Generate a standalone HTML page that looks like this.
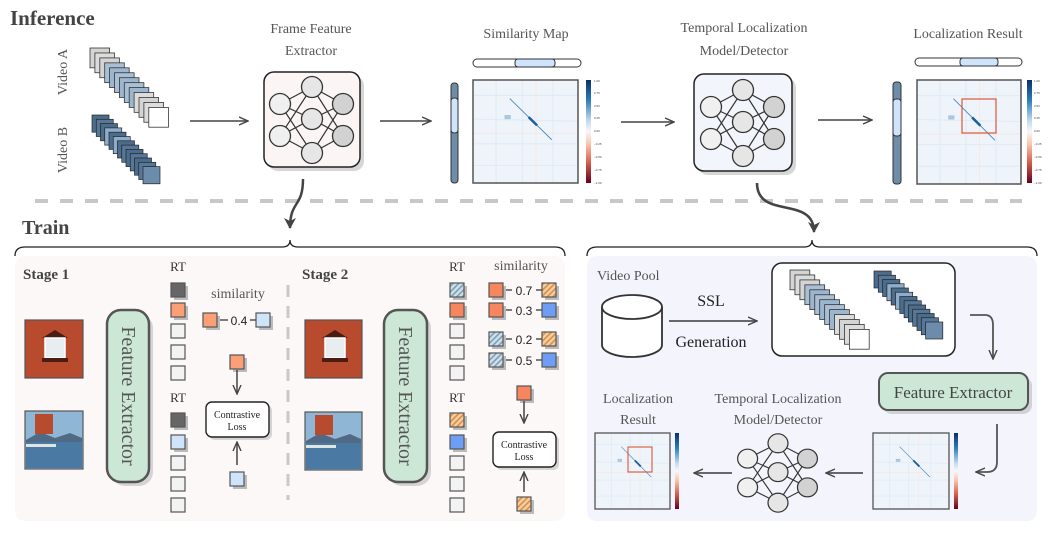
<!DOCTYPE html>
<html><head><meta charset="utf-8"><style>
body{margin:0;background:#fff;}
svg{display:block;font-family:"Liberation Serif",serif;}
.lbl{font-size:14px;fill:#555;text-anchor:middle;}
.h{font-weight:bold;fill:#444;}
.rt{font-size:13px;fill:#333;text-anchor:middle;}
.num{font-family:"Liberation Sans",sans-serif;font-size:12px;fill:#222;text-anchor:middle;}
.tk{font-family:"Liberation Sans",sans-serif;font-size:3px;fill:#444;}
</style></head><body>
<svg width="1048" height="550" viewBox="0 0 1048 550" xmlns="http://www.w3.org/2000/svg">
<defs>
<marker id="ar" markerWidth="10" markerHeight="10" refX="8" refY="5" orient="auto" markerUnits="userSpaceOnUse"><path d="M0,1 L9,5 L0,9" fill="none" stroke="#444" stroke-width="1.4"/></marker>
<marker id="ar2" markerWidth="14" markerHeight="14" refX="10" refY="7" orient="auto" markerUnits="userSpaceOnUse"><path d="M0,1 L11,7 L0,13 L3,7z" fill="#444"/></marker>
<linearGradient id="cb" x1="0" y1="0" x2="0" y2="1">
<stop offset="0" stop-color="#08306b"/><stop offset="0.2" stop-color="#2f7ebc"/><stop offset="0.4" stop-color="#c6dbef"/><stop offset="0.5" stop-color="#f7f7f7"/><stop offset="0.62" stop-color="#fbc6ae"/><stop offset="0.8" stop-color="#d6604d"/><stop offset="1" stop-color="#67001f"/></linearGradient>
<pattern id="hb" width="4" height="4" patternUnits="userSpaceOnUse" patternTransform="rotate(45)"><rect width="4" height="4" fill="#cfe0ea"/><rect width="1.6" height="4" fill="#7d9fb5"/></pattern>
<pattern id="ho" width="4" height="4" patternUnits="userSpaceOnUse" patternTransform="rotate(45)"><rect width="4" height="4" fill="#f6cf9f"/><rect width="1.6" height="4" fill="#d98d4d"/></pattern>
<symbol id="hm" viewBox="0 0 100 100" preserveAspectRatio="none">
<rect width="100" height="100" fill="#eef4f9"/>
<g stroke="#e0ebf4" stroke-width="1"><line x1="0" y1="15" x2="100" y2="15"/><line x1="0" y1="38" x2="100" y2="40"/><line x1="0" y1="62" x2="100" y2="62"/><line x1="0" y1="83" x2="100" y2="83"/><line x1="22" y1="0" x2="22" y2="100"/><line x1="47" y1="0" x2="47" y2="100"/><line x1="76" y1="0" x2="76" y2="100"/></g>
<g stroke="#f7e6de" stroke-width="0.8"><line x1="0" y1="52" x2="100" y2="52"/><line x1="60" y1="0" x2="60" y2="100"/></g>
<line x1="35" y1="18" x2="75" y2="58" stroke="#4a8cc2" stroke-width="0.9"/>
<line x1="53" y1="36" x2="61" y2="44" stroke="#1d5fa0" stroke-width="2.4"/>
<rect x="30" y="34" width="6" height="4" fill="#a8c8e2"/>
</symbol>
<g id="nn">
<g stroke="#333" stroke-width="1.2">
<line x1="-32" y1="-16" x2="0" y2="-33"/><line x1="-32" y1="-16" x2="0" y2="-1"/><line x1="-32" y1="-16" x2="0" y2="33"/>
<line x1="-32" y1="16" x2="0" y2="-33"/><line x1="-32" y1="16" x2="0" y2="-1"/><line x1="-32" y1="16" x2="0" y2="33"/>
<line x1="31" y1="-16" x2="0" y2="-33"/><line x1="31" y1="-16" x2="0" y2="-1"/><line x1="31" y1="-16" x2="0" y2="33"/>
<line x1="31" y1="16" x2="0" y2="-33"/><line x1="31" y1="16" x2="0" y2="-1"/><line x1="31" y1="16" x2="0" y2="33"/>
</g>
<g stroke="#333" stroke-width="1.3">
<circle cx="0" cy="-33" r="10.5" fill="#e6e6e6"/><circle cx="0" cy="-1" r="10.5" fill="#e6e6e6"/><circle cx="0" cy="33" r="10.5" fill="#e6e6e6"/>
<circle cx="-32" cy="-16" r="10.5" fill="#f0f0f0"/><circle cx="-32" cy="16" r="10.5" fill="#f0f0f0"/>
<circle cx="31" cy="-16" r="10.5" fill="#d2d2d2"/><circle cx="31" cy="16" r="10.5" fill="#d2d2d2"/>
</g></g>
<g id="stA" stroke="#333" stroke-width="0.8">
<rect x="0" y="0" width="20" height="20" fill="#d4d4d4"/><rect x="5" y="5" width="20" height="20" fill="#dcdcdc"/><rect x="10" y="10" width="20" height="20" fill="#d4d4d4"/>
<rect x="15" y="15" width="20" height="20" fill="#a8bfd6"/><rect x="20" y="20" width="20" height="20" fill="#9db6cf"/><rect x="25" y="25" width="20" height="20" fill="#a8bfd6"/><rect x="30" y="30" width="20" height="20" fill="#9db6cf"/><rect x="35" y="35" width="20" height="20" fill="#a8bfd6"/><rect x="40" y="40" width="20" height="20" fill="#9db6cf"/>
<rect x="45" y="45" width="20" height="20" fill="#dcdcdc"/><rect x="50" y="50" width="20" height="20" fill="#d4d4d4"/><rect x="55" y="55" width="20" height="20" fill="#dcdcdc"/><rect x="60" y="60" width="20" height="20" fill="#fff"/>
</g>
<g id="stB" stroke="#222" stroke-width="0.8">
<rect x="0" y="0" width="20" height="20" fill="#4c6c8c"/><rect x="5" y="5" width="20" height="20" fill="#56769a"/><rect x="10" y="10" width="20" height="20" fill="#4c6c8c"/>
<rect x="15" y="15" width="20" height="20" fill="#8eaccb"/><rect x="20" y="20" width="20" height="20" fill="#4c6c8c"/><rect x="25" y="25" width="20" height="20" fill="#8eaccb"/><rect x="30" y="30" width="20" height="20" fill="#4c6c8c"/><rect x="35" y="35" width="20" height="20" fill="#56769a"/><rect x="40" y="40" width="20" height="20" fill="#4c6c8c"/>
<rect x="45" y="45" width="20" height="20" fill="#56769a"/><rect x="50" y="50" width="20" height="20" fill="#4c6c8c"/><rect x="55" y="55" width="20" height="20" fill="#56769a"/><rect x="60" y="60" width="20" height="20" fill="#6b8cab"/>
</g>
</defs>

<!-- Inference -->
<text x="10" y="25" class="h" font-size="21">Inference</text>
<text transform="translate(67,72) rotate(-90)" class="lbl" font-size="14">Video A</text>
<text transform="translate(67,150) rotate(-90)" class="lbl" font-size="14">Video B</text>
<use href="#stA" transform="translate(90,48) scale(0.98,0.99)"/>
<use href="#stB" transform="translate(92,115) scale(0.85,0.86)"/>
<line x1="190" y1="121" x2="247" y2="121" stroke="#444" stroke-width="1.4" marker-end="url(#ar)"/>

<text x="311" y="33" class="lbl">Frame Feature</text>
<text x="311" y="55" class="lbl">Extractor</text>
<rect x="268" y="76" width="96" height="95" rx="10" fill="#bbb" opacity="0.6"/>
<rect x="264" y="72" width="96" height="95" rx="10" fill="#fbf6f5" stroke="#222" stroke-width="1.5"/>
<use href="#nn" transform="translate(312,120)"/>
<line x1="380" y1="121" x2="430" y2="121" stroke="#444" stroke-width="1.4" marker-end="url(#ar)"/>

<text x="526" y="38" class="lbl">Similarity Map</text>
<rect x="451" y="83" width="7" height="100" rx="3" fill="#6e8da8" stroke="#333" stroke-width="1"/>
<rect x="451" y="98" width="7" height="35" rx="3" fill="#cfe3fb" stroke="#333" stroke-width="1"/>
<rect x="473" y="59" width="108" height="8" rx="4" fill="#fff" stroke="#333" stroke-width="1"/>
<rect x="515" y="59" width="40" height="8" rx="3" fill="#cfe3fb" stroke="#333" stroke-width="1"/>
<svg x="473" y="80" width="105" height="103"><use href="#hm" width="105" height="103"/></svg>
<rect x="473" y="80" width="105" height="103" fill="none" stroke="#555" stroke-width="1.5"/>
<rect x="586" y="80" width="5" height="103" fill="url(#cb)"/>
<g class="tk"><text x="594" y="82">1.00</text><text x="594" y="94">0.75</text><text x="594" y="107">0.50</text><text x="594" y="119">0.25</text><text x="594" y="132">0.00</text><text x="594" y="145">−0.25</text><text x="594" y="158">−0.50</text><text x="594" y="171">−0.75</text><text x="594" y="184">−1.00</text></g>
<line x1="621" y1="122" x2="673" y2="122" stroke="#444" stroke-width="1.4" marker-end="url(#ar)"/>

<text x="744" y="32" class="lbl">Temporal Localization</text>
<text x="744" y="55" class="lbl">Model/Detector</text>
<rect x="698" y="78" width="98" height="97" rx="10" fill="#bbb" opacity="0.6"/>
<rect x="694" y="74" width="98" height="97" rx="10" fill="#f3f5fc" stroke="#222" stroke-width="1.5"/>
<use href="#nn" transform="translate(743,123)"/>
<line x1="818" y1="120" x2="871" y2="120" stroke="#444" stroke-width="1.4" marker-end="url(#ar)"/>

<text x="968" y="38" class="lbl">Localization Result</text>
<rect x="893" y="82" width="8" height="102" rx="3" fill="#6e8da8" stroke="#333" stroke-width="1"/>
<rect x="893" y="99" width="8" height="37" rx="3" fill="#cfe3fb" stroke="#333" stroke-width="1"/>
<rect x="915" y="58" width="107" height="8" rx="4" fill="#fff" stroke="#333" stroke-width="1"/>
<rect x="960" y="58" width="38" height="8" rx="3" fill="#cfe3fb" stroke="#333" stroke-width="1"/>
<svg x="917" y="80" width="104" height="104"><use href="#hm" width="104" height="104"/></svg>
<rect x="917" y="80" width="104" height="104" fill="none" stroke="#555" stroke-width="1.5"/>
<rect x="962" y="99" width="34" height="34" fill="none" stroke="#d9573c" stroke-width="1.2"/>
<rect x="1027" y="80" width="5" height="103" fill="url(#cb)"/>
<g class="tk"><text x="1034" y="82">1.00</text><text x="1034" y="94">0.75</text><text x="1034" y="107">0.50</text><text x="1034" y="119">0.25</text><text x="1034" y="132">0.00</text><text x="1034" y="145">−0.25</text><text x="1034" y="158">−0.50</text><text x="1034" y="171">−0.75</text><text x="1034" y="184">−1.00</text></g>

<line x1="35" y1="201" x2="1022" y2="201" stroke="#c8c8c8" stroke-width="4" stroke-dasharray="13,12"/>
<path d="M303,179 C303,208 290,200 290,228" fill="none" stroke="#444" stroke-width="2.5" marker-end="url(#ar2)"/>
<path d="M757,183 C757,220 814,195 814,232" fill="none" stroke="#444" stroke-width="2.5" marker-end="url(#ar2)"/>

<!-- Train -->
<text x="22" y="234" class="h" font-size="20">Train</text>
<path d="M15,256 Q15,247 25,247 L282,247 Q290,247 290,240 Q290,247 298,247 L555,247 Q565,247 565,256" fill="none" stroke="#222" stroke-width="1.3"/>
<path d="M587,256 Q587,247 597,247 L804,247 Q812,247 812,240 Q812,247 820,247 L1027,247 Q1037,247 1037,256" fill="none" stroke="#222" stroke-width="1.3"/>
<rect x="15" y="256" width="550" height="265" rx="10" fill="#fcf8f7"/>
<rect x="587" y="256" width="450" height="265" rx="10" fill="#f3f4fc"/>

<!-- Stage 1 -->
<text x="23" y="279" class="h" font-size="15" fill="#555">Stage 1</text>
<rect x="25" y="320" width="58" height="58" fill="#b84a2e" stroke="#555" stroke-width="1.2"/>
<path d="M42,338 L55,330 L68,338z" fill="#4a1c12"/><rect x="45" y="338" width="20" height="20" fill="#e8eef0" stroke="#fff" stroke-width="1.5"/><rect x="42" y="358" width="26" height="4" fill="#4a1c12"/>
<rect x="25" y="411" width="58" height="58" fill="#8fb6d4" stroke="#555" stroke-width="1.2"/>
<rect x="26" y="440" width="56" height="28" fill="#4a7aa3"/><path d="M26,440 L40,432 L55,438 L70,433 L82,438 L82,442 L26,442z" fill="#506a86"/><rect x="26" y="444" width="30" height="3" fill="#dfe6e0"/>
<rect x="35" y="414" width="18" height="20" fill="#b84a2e"/>
<rect x="111" y="314" width="42" height="172" rx="14" fill="#bbb" opacity="0.6"/>
<rect x="107" y="310" width="42" height="172" rx="14" fill="#cde7d6" stroke="#555" stroke-width="2.5"/>
<text transform="translate(122,396) rotate(90)" text-anchor="middle" font-size="20" fill="#555">Feature Extractor</text>

<text x="178" y="271" class="rt">RT</text>
<g stroke="#555" stroke-width="1.2">
<rect x="174" y="286" width="14" height="14" fill="#bbb" stroke="none"/>
<rect x="171" y="283" width="14" height="14" fill="#666"/>
<rect x="174" y="306" width="14" height="14" fill="#bbb" stroke="none"/><rect x="171" y="303" width="14" height="14" fill="#fb9f76"/>
<rect x="171" y="324" width="14" height="14" fill="#f3f3f3"/><rect x="171" y="345" width="14" height="14" fill="#f3f3f3"/><rect x="171" y="366" width="14" height="14" fill="#f3f3f3"/>
<rect x="174" y="416" width="14" height="14" fill="#bbb" stroke="none"/><rect x="171" y="413" width="14" height="14" fill="#666"/>
<rect x="174" y="438" width="14" height="14" fill="#bbb" stroke="none"/><rect x="171" y="435" width="14" height="14" fill="#cfe3fb"/>
<rect x="171" y="456" width="14" height="14" fill="#f3f3f3"/><rect x="171" y="477" width="14" height="14" fill="#f3f3f3"/><rect x="171" y="498" width="14" height="14" fill="#f3f3f3"/>
</g>
<text x="178" y="402" class="rt">RT</text>
<text x="238" y="298" class="lbl" fill="#333" font-size="14">similarity</text>
<line x1="217" y1="320" x2="256" y2="320" stroke="#333" stroke-width="1.2"/>
<rect x="228" y="313" width="22" height="14" fill="#fcf8f7"/>
<text x="239" y="325" class="num">0.4</text>
<g stroke="#555" stroke-width="1.2">
<rect x="206" y="316" width="14" height="14" fill="#bbb" stroke="none"/><rect x="203" y="313" width="14" height="14" fill="#fb9f76"/>
<rect x="259" y="316" width="14" height="14" fill="#bbb" stroke="none"/><rect x="256" y="313" width="14" height="14" fill="#cfe3fb"/>
<rect x="233" y="358" width="14" height="14" fill="#bbb" stroke="none"/><rect x="230" y="355" width="14" height="14" fill="#fb9f76"/>
<rect x="233" y="475" width="14" height="14" fill="#bbb" stroke="none"/><rect x="230" y="472" width="14" height="14" fill="#cfe3fb"/>
</g>
<line x1="237" y1="370" x2="237" y2="393" stroke="#444" stroke-width="1.5" marker-end="url(#ar)"/>
<line x1="237" y1="465" x2="237" y2="443" stroke="#444" stroke-width="1.5" marker-end="url(#ar)"/>
<rect x="209" y="405" width="63" height="35" rx="6" fill="#bbb" opacity="0.6"/>
<rect x="206" y="402" width="63" height="35" rx="6" fill="#fff" stroke="#222" stroke-width="1.4"/>
<text x="237" y="418" text-anchor="middle" font-size="10" fill="#222">Contrastive</text>
<text x="237" y="430" text-anchor="middle" font-size="10" fill="#222">Loss</text>
<line x1="288" y1="285" x2="288" y2="500" stroke="#c8c8c8" stroke-width="3" stroke-dasharray="12,9"/>

<!-- Stage 2 -->
<text x="302" y="279" class="h" font-size="15" fill="#555">Stage 2</text>
<rect x="305" y="320" width="57" height="58" fill="#b84a2e" stroke="#555" stroke-width="1.2"/>
<path d="M322,338 L335,330 L348,338z" fill="#4a1c12"/><rect x="325" y="338" width="20" height="20" fill="#e8eef0" stroke="#fff" stroke-width="1.5"/><rect x="322" y="358" width="26" height="4" fill="#4a1c12"/>
<rect x="305" y="412" width="57" height="58" fill="#8fb6d4" stroke="#555" stroke-width="1.2"/>
<rect x="306" y="441" width="55" height="28" fill="#4a7aa3"/><path d="M306,441 L320,433 L335,439 L350,434 L361,439 L361,443 L306,443z" fill="#506a86"/><rect x="306" y="445" width="30" height="3" fill="#dfe6e0"/>
<rect x="315" y="415" width="18" height="20" fill="#b84a2e"/>
<rect x="388" y="314" width="43" height="172" rx="14" fill="#bbb" opacity="0.6"/>
<rect x="384" y="310" width="43" height="172" rx="14" fill="#cde7d6" stroke="#555" stroke-width="2.5"/>
<text transform="translate(399,396) rotate(90)" text-anchor="middle" font-size="20" fill="#555">Feature Extractor</text>

<text x="457" y="271" class="rt">RT</text>
<text x="457" y="402" class="rt">RT</text>
<g stroke="#555" stroke-width="1.2">
<rect x="453" y="286" width="14" height="14" fill="#bbb" stroke="none"/><rect x="450" y="283" width="14" height="14" fill="url(#hb)"/>
<rect x="453" y="306" width="14" height="14" fill="#bbb" stroke="none"/><rect x="450" y="303" width="14" height="14" fill="#f7865f"/>
<rect x="450" y="324" width="14" height="14" fill="#f3f3f3"/><rect x="450" y="345" width="14" height="14" fill="#f3f3f3"/><rect x="450" y="366" width="14" height="14" fill="#f3f3f3"/>
<rect x="453" y="416" width="14" height="14" fill="#bbb" stroke="none"/><rect x="450" y="413" width="14" height="14" fill="url(#ho)"/>
<rect x="453" y="438" width="14" height="14" fill="#bbb" stroke="none"/><rect x="450" y="435" width="14" height="14" fill="#6e9df5"/>
<rect x="450" y="456" width="14" height="14" fill="#f3f3f3"/><rect x="450" y="477" width="14" height="14" fill="#f3f3f3"/><rect x="450" y="498" width="14" height="14" fill="#f3f3f3"/>
</g>
<text x="521" y="270" class="lbl" fill="#333" font-size="14">similarity</text>
<g stroke="#333" stroke-width="1.2"><line x1="504" y1="290" x2="542" y2="290"/><line x1="504" y1="310" x2="542" y2="310"/><line x1="504" y1="339" x2="542" y2="339"/><line x1="504" y1="360" x2="542" y2="360"/></g>
<g fill="#fcf8f7"><rect x="512" y="283" width="24" height="14"/><rect x="512" y="303" width="24" height="14"/><rect x="512" y="332" width="24" height="14"/><rect x="512" y="353" width="24" height="14"/></g>
<text x="524" y="295" class="num">0.7</text><text x="524" y="315" class="num">0.3</text><text x="524" y="344" class="num">0.2</text><text x="524" y="365" class="num">0.5</text>
<g stroke="#555" stroke-width="1.2">
<rect x="492" y="286" width="14" height="14" fill="#bbb" stroke="none"/><rect x="489" y="283" width="14" height="14" fill="#f7865f"/>
<rect x="492" y="306" width="14" height="14" fill="#bbb" stroke="none"/><rect x="489" y="303" width="14" height="14" fill="#f7865f"/>
<rect x="492" y="335" width="14" height="14" fill="#bbb" stroke="none"/><rect x="489" y="332" width="14" height="14" fill="url(#hb)"/>
<rect x="492" y="356" width="14" height="14" fill="#bbb" stroke="none"/><rect x="489" y="353" width="14" height="14" fill="url(#hb)"/>
<rect x="545" y="286" width="14" height="14" fill="#bbb" stroke="none"/><rect x="542" y="283" width="14" height="14" fill="url(#ho)"/>
<rect x="545" y="306" width="14" height="14" fill="#bbb" stroke="none"/><rect x="542" y="303" width="14" height="14" fill="#6e9df5"/>
<rect x="545" y="335" width="14" height="14" fill="#bbb" stroke="none"/><rect x="542" y="332" width="14" height="14" fill="url(#ho)"/>
<rect x="545" y="356" width="14" height="14" fill="#bbb" stroke="none"/><rect x="542" y="353" width="14" height="14" fill="#6e9df5"/>
<rect x="520" y="389" width="14" height="14" fill="#bbb" stroke="none"/><rect x="517" y="386" width="14" height="14" fill="#f7865f"/>
<rect x="520" y="500" width="14" height="14" fill="#bbb" stroke="none"/><rect x="517" y="497" width="14" height="14" fill="url(#ho)"/>
</g>
<line x1="524" y1="401" x2="524" y2="422" stroke="#444" stroke-width="1.5" marker-end="url(#ar)"/>
<line x1="524" y1="492" x2="524" y2="473" stroke="#444" stroke-width="1.5" marker-end="url(#ar)"/>
<rect x="496" y="435" width="63" height="35" rx="6" fill="#bbb" opacity="0.6"/>
<rect x="493" y="432" width="63" height="35" rx="6" fill="#fff" stroke="#222" stroke-width="1.4"/>
<text x="524" y="448" text-anchor="middle" font-size="10" fill="#222">Contrastive</text>
<text x="524" y="460" text-anchor="middle" font-size="10" fill="#222">Loss</text>

<!-- Right panel -->
<text x="597" y="280" font-size="14" fill="#555">Video Pool</text>
<path d="M602,307 L602,345 A30,12 0 0 0 662,345 L662,307" fill="#fff" stroke="#333" stroke-width="1.8"/>
<ellipse cx="632" cy="307" rx="30" ry="12" fill="#fff" stroke="#333" stroke-width="1.8"/>
<text x="711" y="306" text-anchor="middle" font-size="16" fill="#222">SSL</text>
<line x1="669" y1="321" x2="756" y2="321" stroke="#555" stroke-width="1.8" marker-end="url(#ar)"/>
<text x="711" y="347" text-anchor="middle" font-size="16" fill="#222">Generation</text>
<rect x="772" y="263" width="183" height="93" rx="10" fill="#fff" stroke="#222" stroke-width="1.5"/>
<use href="#stA" transform="translate(790,270) scale(0.99,0.99)"/>
<use href="#stB" transform="translate(874,271) scale(0.86,0.85)"/>
<path d="M970,315 L985,315 Q993,315 993,325 L993,358" fill="none" stroke="#555" stroke-width="1.8" marker-end="url(#ar)"/>
<rect x="883" y="377" width="149" height="37" rx="9" fill="#bbb" opacity="0.6"/>
<rect x="879" y="373" width="149" height="37" rx="9" fill="#cde7d6" stroke="#555" stroke-width="2"/>
<text x="953" y="398" text-anchor="middle" font-size="17" fill="#444">Feature Extractor</text>
<path d="M997,424 L997,462 Q997,472 987,472 L977,472" fill="none" stroke="#555" stroke-width="1.8" marker-end="url(#ar)"/>
<svg x="873" y="433" width="76" height="76"><use href="#hm" width="76" height="76"/></svg>
<rect x="873" y="433" width="76" height="76" fill="none" stroke="#555" stroke-width="1.3"/>
<rect x="954" y="433" width="4" height="76" fill="url(#cb)"/>
<line x1="863" y1="473" x2="827" y2="473" stroke="#555" stroke-width="1.8" marker-end="url(#ar)"/>
<text x="778" y="403" class="lbl" font-size="13">Temporal Localization</text>
<text x="778" y="424" class="lbl" font-size="13">Model/Detector</text>
<use href="#nn" transform="translate(778,473) scale(0.95,0.9)"/>
<line x1="732" y1="473" x2="695" y2="473" stroke="#555" stroke-width="1.8" marker-end="url(#ar)"/>
<text x="638" y="403" class="lbl" font-size="13">Localization</text>
<text x="638" y="424" class="lbl" font-size="13">Result</text>
<svg x="595" y="433" width="75" height="76"><use href="#hm" width="75" height="76"/></svg>
<rect x="595" y="433" width="75" height="76" fill="none" stroke="#555" stroke-width="1.3"/>
<rect x="628" y="447" width="24" height="25" fill="none" stroke="#d9573c" stroke-width="1.1"/>
<rect x="675" y="433" width="4" height="76" fill="url(#cb)"/>
</svg>
</body></html>
